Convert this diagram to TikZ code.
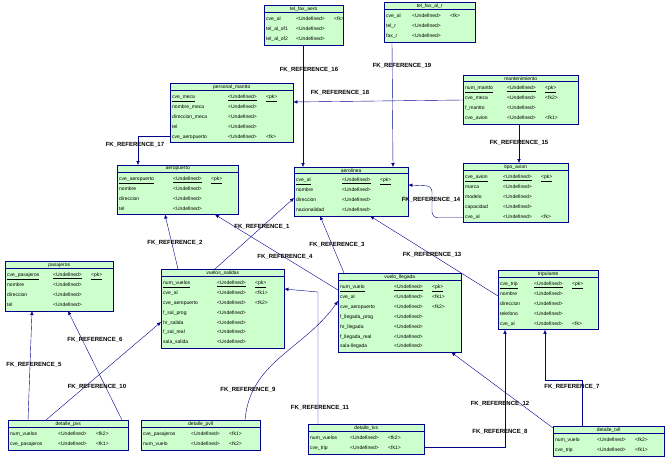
\documentclass[tikz,border=0pt]{standalone}
\usepackage{fontspec}
\setmainfont{Liberation Sans}
\usetikzlibrary{arrows.meta,shapes.multipart}

\definecolor{tblfill}{RGB}{204,255,204}
\definecolor{navy}{RGB}{0,0,140}
\newcommand{\und}{\textless Undefined\textgreater}
\newcommand{\fld}[2]{#1 & \und & #2\\}
\newcommand{\key}[2]{\underline{#1} & \underline{\und} & \underline{#2}\\}
% table: name, x, y, width, first column, title, rows
\newcommand{\erbox}[7]{%
  \node[tbl, text width=#4pt, anchor=north west] (#1) at (#2,#3)
    {\makebox[#4pt]{#6}\nodepart{second}%
     \begin{tabular}{@{}p{#5pt}@{\hspace{2pt}}p{36pt}@{\hspace{2pt}}l@{}}#7\end{tabular}};}

\tikzset{
  tbl/.style={rectangle split, rectangle split parts=2, draw=navy, fill=tblfill,
    font=\fontsize{5}{9.8}\selectfont, inner xsep=2pt, inner ysep=1.2pt},
  fk/.style={navy, -{Latex[length=4pt,width=3.5pt]}},
  lbl/.style={font=\fontsize{6}{6}\selectfont\bfseries, inner sep=0pt, text=black}
}

\begin{document}
\begin{tikzpicture}[x=1pt,y=-1pt]
  \useasboundingbox (0,0) rectangle (667,471);
  \fill[white] (0,0) rectangle (667,471);

  \erbox{telaero}{264}{5}{75}{28}{tel\_fax\_aero}{\fld{cve\_al}{\textless fk\textgreater}\fld{tel\_al\_of1}{}\fld{tel\_al\_of2}{}}
  \erbox{telalr}{384}{2}{87}{24}{tel\_fax\_al\_r}{\fld{cve\_al}{\textless fk\textgreater}\fld{tel\_r}{}\fld{fax\_r}{}}
  \erbox{personal}{170}{83}{119}{54}{personal\_mantto}{\key{cve\_meca}{\textless pk\textgreater}\fld{nombre\_meca}{}\fld{direccion\_meca}{}\fld{tel}{}\fld{cve\_aeropuerto}{\textless fk\textgreater}}
  \erbox{mantto}{463}{75}{111}{40}{mantenimiento}{\key{num\_mantto}{\textless pk\textgreater}\fld{cve\_meca}{\textless fk2\textgreater}\fld{f\_mantto}{}\fld{cve\_avion}{\textless fk1\textgreater}}
  \erbox{aeropuerto}{117}{165}{117}{52}{aeropuerto}{\key{cve\_aeropuerto}{\textless pk\textgreater}\fld{nombre}{}\fld{direccion}{}\fld{tel}{}}
  \erbox{aerolinea}{294}{167}{110}{44}{aerolinea}{\key{cve\_al}{\textless pk\textgreater}\fld{nombre}{}\fld{direccion}{}\fld{nacionalidad}{}}
  \erbox{avion}{463}{163}{101}{36}{tipo\_avion}{\key{cve\_avion}{\textless pk\textgreater}\fld{marca}{}\fld{modelo}{}\fld{capacidad}{}\fld{cve\_al}{\textless fk\textgreater}}
  \erbox{pasajeros}{5}{261}{104}{44}{pasajeros}{\key{cve\_pasajeros}{\textless pk\textgreater}\fld{nombre}{}\fld{direccion}{}\fld{tel}{}}
  \erbox{salidas}{161}{269}{119}{52}{vuelos\_salidas}{\key{num\_vuelos}{\textless pk\textgreater}\fld{cve\_al}{\textless fk1\textgreater}\fld{cve\_aeropuerto}{\textless fk2\textgreater}\fld{f\_sal\_prog}{}\fld{hr\_salida}{}\fld{f\_sal\_real}{}\fld{sala\_salida}{}}
  \erbox{llegada}{338}{273}{119}{52}{vuelo\_llegada}{\key{num\_vuelo}{\textless pk\textgreater}\fld{cve\_al}{\textless fk1\textgreater}\fld{cve\_aeropuerto}{\textless fk2\textgreater}\fld{f\_llegada\_prog}{}\fld{hr\_llegada}{}\fld{f\_llegada\_real}{}\fld{sala-llegada}{}}
  \erbox{tripulante}{498}{270}{96}{32}{tripulante}{\key{cve\_trip}{\textless pk\textgreater}\fld{nombre}{}\fld{direccion}{}\fld{telefono}{}\fld{cve\_al}{\textless fk\textgreater}}
  \erbox{pvs}{8}{420}{116}{46}{detalle\_pvs}{\fld{num\_vuelos}{\textless fk2\textgreater}\fld{cve\_pasajeros}{\textless fk1\textgreater}}
  \erbox{pvll}{141}{420}{115}{46}{detalle\_pvll}{\fld{cve\_pasajeros}{\textless fk1\textgreater}\fld{num\_vuelo}{\textless fk2\textgreater}}
  \erbox{tvs}{308}{424}{112}{38}{detalle\_tvs}{\fld{num\_vuelos}{\textless fk2\textgreater}\fld{cve\_trip}{\textless fk1\textgreater}}
  \erbox{tvll}{553}{426}{107}{40}{detalle\_tvll}{\fld{num\_vuelo}{\textless fk2\textgreater}\fld{cve\_trip}{\textless fk1\textgreater}}

  % references
  \draw[fk] ([xshift=39pt]telaero.south west) -- ([xshift=9pt]aerolinea.north west);
  \draw[fk] ([xshift=8pt]telalr.south west) -- ([xshift=99pt]aerolinea.north west);
  \draw[fk] ([yshift=-25pt]mantto.north west) -- ([yshift=-19pt]personal.north east);
  \draw[fk] ([yshift=7pt]personal.south west) -| ([xshift=21pt]aeropuerto.north west);
  \draw[fk] ([xshift=56pt]mantto.south west) -- ([xshift=56pt]avion.north west);
  \draw[fk] ([yshift=5pt]avion.south west) -- ++(-25,0) to[out=180,in=-90] ++(-6,-6) -- ++(0,-20) to[out=90,in=0] ++(-6,-6) -- ([yshift=-18pt]aerolinea.north east);
  \draw[fk] ([xshift=54pt]salidas.north west) -- ([yshift=-31pt]aerolinea.north west);
  \draw[fk] ([xshift=17pt]salidas.north west) -- ([xshift=48pt]aeropuerto.south west);
  \draw[fk] ([xshift=6pt]llegada.north west) -- ([xshift=26pt]aerolinea.south west);
  \draw[fk] ([yshift=-17pt]llegada.north west) -- ([xshift=98pt]aeropuerto.south west);
  \draw[fk] ([yshift=-26pt]tripulante.north west) -- ([xshift=76pt]aerolinea.south west);
  \draw[fk] ([xshift=20pt]pvs.north west) -- ([xshift=27pt]pasajeros.south west);
  \draw[fk] ([xshift=-19pt]pvll.north west) -- ([xshift=63pt]pasajeros.south west);
  \draw[fk] ([xshift=38pt]pvs.north west) -- ([yshift=-53pt]salidas.north west);
  \draw[fk] ([xshift=104pt]pvll.north west) to[out=85,in=-125] ([yshift=-28pt]llegada.north west);
  \draw[fk] ([xshift=10pt]tvs.north west) -- ++(0,-132) -- ([yshift=-20pt]salidas.north east);
  \draw[fk] ([yshift=7pt]tvs.south east) -| ([xshift=7pt]tripulante.south west);
  \draw[fk] ([xshift=29pt]tvll.north west) -- ++(0,-46) -- ++(-37,0) -- ([xshift=47pt]tripulante.south west);
  \draw[fk] ([yshift=-2pt]tvll.north west) -- ([xshift=-10pt]llegada.south east);

  % reference names
  \node[lbl] at (309,70) {FK\_REFERENCE\_16};
  \node[lbl] at (402,66) {FK\_REFERENCE\_19};
  \node[lbl] at (340,93) {FK\_REFERENCE\_18};
  \node[lbl] at (135,145) {FK\_REFERENCE\_17};
  \node[lbl] at (519,143) {FK\_REFERENCE\_15};
  \node[lbl] at (431,200) {FK\_REFERENCE\_14};
  \node[lbl] at (262,227) {FK\_REFERENCE\_1};
  \node[lbl] at (175,243) {FK\_REFERENCE\_2};
  \node[lbl] at (337,245) {FK\_REFERENCE\_3};
  \node[lbl] at (285,257) {FK\_REFERENCE\_4};
  \node[lbl] at (432,255) {FK\_REFERENCE\_13};
  \node[lbl] at (95,340) {FK\_REFERENCE\_6};
  \node[lbl] at (34,365) {FK\_REFERENCE\_5};
  \node[lbl] at (97,387) {FK\_REFERENCE\_10};
  \node[lbl] at (248,390) {FK\_REFERENCE\_9};
  \node[lbl] at (320,408) {FK\_REFERENCE\_11};
  \node[lbl] at (500,404) {FK\_REFERENCE\_12};
  \node[lbl] at (572,387) {FK\_REFERENCE\_7};
  \node[lbl] at (500,432) {FK\_REFERENCE\_8};
\end{tikzpicture}
\end{document}
